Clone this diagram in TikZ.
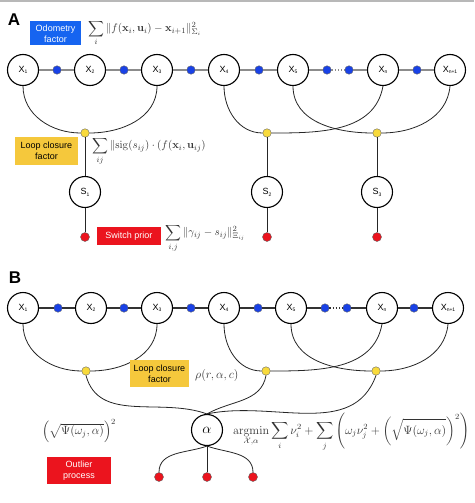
\documentclass[tikz,border=0pt]{standalone}
\usepackage{amsmath,amssymb}
\usepackage[no-math]{fontspec}
\newfontfamily\lab{Liberation Sans}
\definecolor{odoblue}{RGB}{22,100,240}
\definecolor{dotblue}{RGB}{25,65,230}
\definecolor{loopyel}{RGB}{245,200,60}
\definecolor{dotyel}{RGB}{248,218,60}
\definecolor{pred}{RGB}{235,20,30}
\newcommand\xs[2]{#1\raisebox{-1.8pt}{\fontsize{5}{5}\selectfont #2}}
\tikzset{
  xnode/.style={circle,draw=black,line width=1.1pt,fill=white,minimum size=31pt,inner sep=0pt,font=\lab\fontsize{9}{9}\selectfont},
  anode/.style={circle,draw=black,line width=1.1pt,fill=white,minimum size=31pt,inner sep=0pt,font=\fontsize{14}{14}\selectfont},
  bdot/.style={circle,fill=dotblue,draw=black!60,line width=0.4pt,minimum size=8.5pt,inner sep=0pt},
  ydot/.style={circle,fill=dotyel,draw=black!60,line width=0.4pt,minimum size=8.5pt,inner sep=0pt},
  rdot/.style={circle,fill=pred,draw=black!60,line width=0.4pt,minimum size=9pt,inner sep=0pt},
  chainA/.style={black!45,line width=1.2pt},
  chainB/.style={black!80,line width=1.1pt},
  arcl/.style={black!85,line width=0.8pt},
  lbox/.style={font=\lab\fontsize{9}{11}\selectfont,align=center,inner sep=0pt},
  frm/.style={font=\fontsize{12}{14}\selectfont,text=black!80,inner sep=0pt},
  frms/.style={font=\fontsize{11}{13}\selectfont,text=black!80,inner sep=0pt},
  panel/.style={font=\lab\bfseries\fontsize{17}{17}\selectfont,inner sep=0pt}
}
\begin{document}
\begin{tikzpicture}[x=1pt,y=-1pt]
\useasboundingbox (0,0) rectangle (474,503);
\fill[black!28] (0,0) rectangle (474,2);
% ---------- Panel A ----------
\node[panel] (PA) at (14,20) {A};
\node[lbox,fill=odoblue,text=white,minimum width=51pt,minimum height=24pt] (odo) at (55.5,33.5) {Odometry\\factor};
\node[frms,anchor=west] (f1) at (88,33) {$\displaystyle\sum_i \|f(\mathbf{x}_i,\mathbf{u}_i)-\mathbf{x}_{i+1}\|^2_{\Sigma_i}$};
\foreach \n/\x/\l in {1/23/\xs{X}{1},2/90/\xs{X}{2},3/157/\xs{X}{3},4/224/\xs{X}{4},5/293/\xs{X}{5},n/383/\xs{X}{n},m/450/\xs{X}{n+1}}
  \node[xnode] (A\n) at (\x,70) {\l};
\foreach \n/\x in {1/57,2/124,3/191,4/259,5/327,6/349,7/417}
  \node[bdot] (Ab\n) at (\x,70) {};
\draw[chainA] (A1)--(Ab1)--(A2)--(Ab2)--(A3)--(Ab3)--(A4)--(Ab4)--(A5)--(Ab5);
\draw[chainA,dotted] (Ab5)--(Ab6);
\draw[chainA] (Ab6)--(An)--(Ab7)--(Am);
\node[ydot] (Ay1) at (85,133) {};
\node[ydot] (Ay2) at (267,133) {};
\node[ydot] (Ay3) at (377,133) {};
\draw[arcl] (A1.south) to[out=-90,in=180] (Ay1.west);
\draw[arcl] (Ay1.east) to[out=0,in=-90] (A3.south);
\draw[arcl] (A4.south) to[out=-90,in=180] (Ay2.west);
\draw[arcl] (Ay2.east) to[out=0,in=-100] (An.south);
\draw[arcl] (A5.south) to[out=-90,in=180] (Ay3.west);
\draw[arcl] (Ay3.east) to[out=0,in=-95] (Am.south);
\foreach \i/\x in {1/85,2/267,3/377}{
  \node[xnode] (As\i) at (\x,192) {\xs{S}{\i}};
  \node[rdot] (Ar\i) at (\x,237) {};
  \draw[arcl] (Ay\i)--(As\i)--(Ar\i);
}
\node[lbox,fill=loopyel,minimum width=63pt,minimum height=28pt] (loopA) at (46.5,151) {Loop closure\\factor};
\node[frms,anchor=west] (f2) at (92,151) {$\displaystyle\sum_{ij}\|\mathrm{sig}(s_{ij})\cdot(f(\mathbf{x}_i,\mathbf{u}_{ij})$};
\node[lbox,fill=pred,text=white,minimum width=64pt,minimum height=18pt] (sw) at (129,236) {Switch prior};
\node[frms,anchor=west] (f3) at (165,238) {$\displaystyle\sum_{i,j}\|\gamma_{ij}-s_{ij}\|^2_{\Xi_{ij}}$};
% ---------- Panel B ----------
\node[panel] (PB) at (15,278) {B};
\foreach \n/\x/\l in {1/23/\xs{X}{1},2/91/\xs{X}{2},3/157/\xs{X}{3},4/224/\xs{X}{4},5/291/\xs{X}{5},n/382/\xs{X}{n},m/448/\xs{X}{n+1}}
  \node[xnode] (B\n) at (\x,308) {\l};
\foreach \n/\x in {1/58,2/124,3/191,4/258,5/325,6/347,7/414}
  \node[bdot] (Bb\n) at (\x,308) {};
\draw[chainB] (B1)--(Bb1)--(B2)--(Bb2)--(B3)--(Bb3)--(B4)--(Bb4)--(B5)--(Bb5);
\draw[chainB,dotted] (Bb5)--(Bb6);
\draw[chainB] (Bb6)--(Bn)--(Bb7)--(Bm);
\node[ydot] (By1) at (86,371) {};
\node[ydot] (By2) at (266,371) {};
\node[ydot] (By3) at (376,371) {};
\draw[arcl] (B1.south) to[out=-90,in=180] (By1.west);
\draw[arcl] (By1.east) to[out=0,in=-90] (B3.south);
\draw[arcl] (B4.south) to[out=-90,in=180] (By2.west);
\draw[arcl] (By2.east) to[out=0,in=-100] (Bn.south);
\draw[arcl] (B5.south) to[out=-90,in=180] (By3.west);
\draw[arcl] (By3.east) to[out=0,in=-95] (Bm.south);
\node[lbox,fill=loopyel,minimum width=59pt,minimum height=27pt] (loopB) at (159.5,373.5) {Loop closure\\factor};
\node[frm,anchor=west] (f4) at (195,375) {$\rho(r,\alpha,c)$};
\node[anode] (al) at (207,430) {$\alpha$};
\draw[arcl] (By1.south) to[out=-75,in=160] (al.north);
\draw[arcl] (By2.south) to[out=-100,in=30] (al.north);
\draw[arcl] (By3.south) to[out=-110,in=12] (al.north);
\node[rdot] (Br1) at (159,477) {};
\node[rdot] (Br2) at (207,477) {};
\node[rdot] (Br3) at (253,477) {};
\draw[arcl] (al.south) to[out=-160,in=90] (Br1.north);
\draw[arcl] (al.south) -- (Br2.north);
\draw[arcl] (al.south) to[out=-20,in=90] (Br3.north);
\node[frm] (f5) at (79,431) {$\left(\sqrt{\Psi(\omega_j,\alpha)}\right)^2$};
\node[lbox,fill=pred,text=white,minimum width=64pt,minimum height=27pt] (outl) at (79,470.5) {Outlier\\process};
\node[frm,anchor=west] (f6) at (233,432) {$\displaystyle\operatorname*{argmin}_{\mathcal{X},\alpha}\sum_i\nu_i^2+\sum_j\left(\omega_j\nu_j^2+\left(\sqrt{\Psi(\omega_j,\alpha)}\right)^2\right)$};
\end{tikzpicture}
\end{document}
